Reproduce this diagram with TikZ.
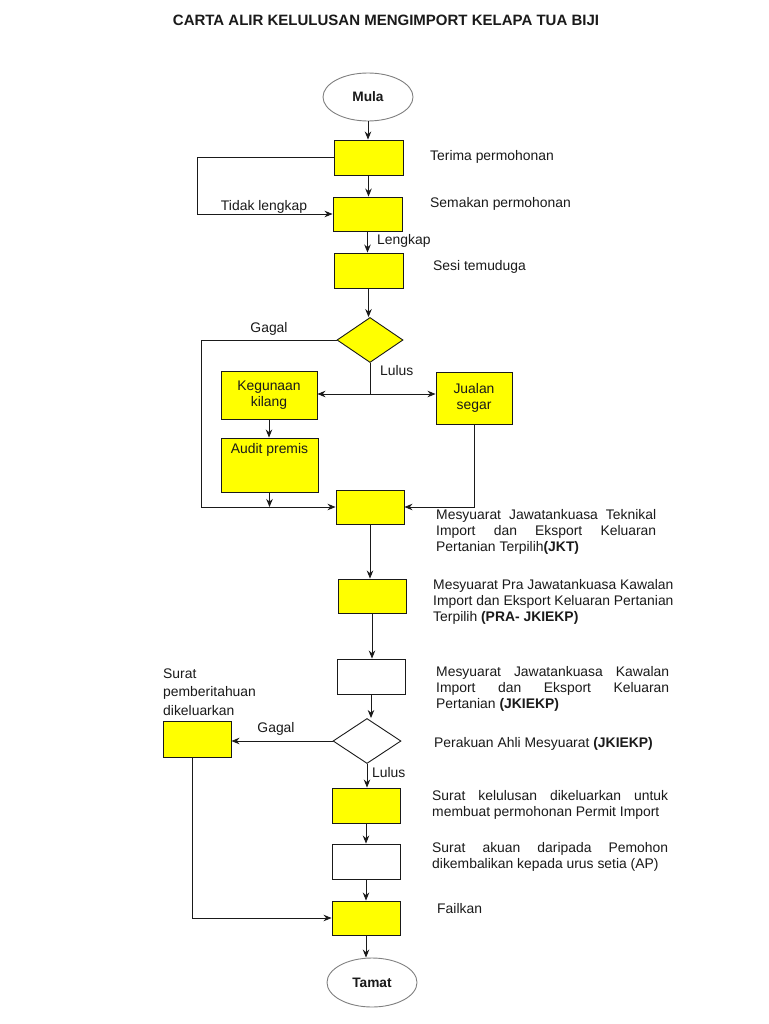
\documentclass[tikz,border=0pt]{standalone}
\usepackage{fontspec}
\setmainfont{Liberation Sans}
\usetikzlibrary{shapes.geometric,arrows.meta}
\definecolor{ink}{HTML}{1A1A1A}
\definecolor{fillY}{HTML}{FFFF00}
\newcommand\jl[2]{\makebox[#1][s]{#2}}
\tikzset{
  every node/.style={font=\fontsize{13.9}{16.2}\selectfont, text=ink},
  ybox/.style={draw=ink, line width=0.9pt, fill=fillY, inner sep=0pt},
  wbox/.style={draw=ink, line width=0.9pt, fill=white, inner sep=0pt},
  term/.style={ellipse, draw=black!50, line width=0.9pt, fill=white, inner sep=0pt, font=\fontsize{13.7}{16}\selectfont\bfseries},
  dec/.style={diamond, draw=ink, line width=0.9pt, inner sep=0pt},
  conn/.style={draw=ink, line width=0.9pt},
  arr/.style={conn, -{Stealth[length=8pt,width=6.5pt]}},
  lbl/.style={inner sep=0pt},
  desc/.style={inner sep=0pt, anchor=west, align=left}
}
\begin{document}
\begin{tikzpicture}[x=1pt,y=-1pt]
\useasboundingbox (0,0) rectangle (768,1024);
\fill[white] (0,0) rectangle (768,1024);

\node[lbl, font=\fontsize{15}{18}\selectfont\bfseries] (title) at (386,20) {CARTA ALIR KELULUSAN MENGIMPORT KELAPA TUA BIJI};

% shapes
\node[term, minimum width=90pt, minimum height=48pt] (mula) at (368,97) {Mula};
\node[ybox, minimum width=69pt, minimum height=35pt] (b1) at (368.5,157.5) {};
\node[ybox, minimum width=69pt, minimum height=34pt] (b2) at (367.5,214) {};
\node[ybox, minimum width=69pt, minimum height=35pt] (b3) at (368.5,270.5) {};
\node[dec, fill=fillY, minimum width=66pt, minimum height=45pt] (d1) at (370,340) {};
\node[ybox, minimum width=96pt, minimum height=48pt, align=center] (keg) at (269,395) {Kegunaan\\kilang};
\node[ybox, minimum width=97pt, minimum height=54pt, label={[anchor=north, lbl, yshift=-5.5pt]north:Audit premis}] (aud) at (269.5,465) {};
\node[ybox, minimum width=76pt, minimum height=52pt, align=center] (jual) at (474,398) {Jualan\\segar};
\node[ybox, minimum width=68pt, minimum height=34pt] (jkt) at (370,507) {};
\node[ybox, minimum width=68pt, minimum height=34pt] (pra) at (372,596) {};
\node[wbox, minimum width=68pt, minimum height=35pt] (jki) at (371,676.5) {};
\node[dec, fill=white, minimum width=68pt, minimum height=45pt] (d2) at (367,741) {};
\node[ybox, minimum width=68pt, minimum height=36pt] (sur) at (197,739) {};
\node[ybox, minimum width=68pt, minimum height=35pt] (kel) at (366,805.5) {};
\node[wbox, minimum width=68pt, minimum height=35pt] (ap) at (366,861.5) {};
\node[ybox, minimum width=68pt, minimum height=34pt] (fail) at (366,918) {};
\node[term, minimum width=90pt, minimum height=49pt] (tamat) at (372,982.5) {Tamat};

% helper coordinates
\coordinate (loopx) at (197,0);
\coordinate (gagx) at (201,0);
\coordinate (split) at (370,394);
\coordinate (surx) at (192,0);

% connectors
\draw[arr] (mula.south) -- (mula.south |- b1.north);
\draw[arr] (b1.south) -- (b1.south |- b2.north);
\draw[arr] (b1.west) -- (b1.west -| loopx) |- (b2.west);
\draw[arr] (b2.south) -- (b2.south |- b3.north);
\draw[arr] (b3.south) -- (b3.south |- d1.north);
\draw[arr] (d1.west) -- (d1.west -| gagx) |- (jkt.west);
\draw[conn] (d1.south) -- (split);
\draw[arr] (split) -- (keg.east |- split);
\draw[arr] (split) -- (jual.west |- split);
\draw[arr] (keg.south) -- (keg.south |- aud.north);
\draw[arr] (aud.south) -- (aud.south |- jkt.west);
\draw[arr] (jual.south) -- (jual.south |- jkt.east) -- (jkt.east);
\draw[arr] (jkt.south) -- (jkt.south |- pra.north);
\draw[arr] (pra.south) -- (pra.south |- jki.north);
\draw[arr] (jki.south) -- (jki.south |- d2.north);
\draw[arr] (d2.west) -- (sur.east |- d2.west);
\draw[arr] (d2.south) -- (d2.south |- kel.north);
\draw[arr] (kel.south) -- (kel.south |- ap.north);
\draw[arr] (ap.south) -- (ap.south |- fail.north);
\draw[arr] (sur.south -| surx) |- (fail.west);
\draw[arr] (fail.south) -- (fail.south |- tamat.north);

% connector labels
\node[lbl] (tl) at (264,207) {Tidak lengkap};
\node[lbl, anchor=west] (lk) at (377,241) {Lengkap};
\node[lbl] (g1) at (269,329) {Gagal};
\node[lbl, anchor=west] (l1) at (380,371) {Lulus};
\node[lbl] (g2) at (276,729) {Gagal};
\node[lbl, anchor=west] (l2) at (372,773) {Lulus};
\node[lbl, anchor=west, align=left, font=\fontsize{13.9}{18.5}\selectfont] (spd) at (163,692) {Surat\\pemberitahuan\\dikeluarkan};

% descriptions
\node[desc] (t1) at (430,156.5) {Terima permohonan};
\node[desc] (t2) at (430,203.5) {Semakan permohonan};
\node[desc] (t3) at (433,266.5) {Sesi temuduga};
\node[desc] (t4) at (436,532) {\jl{220pt}{Mesyuarat Jawatankuasa Teknikal}\\\jl{220pt}{Import dan Eksport Keluaran}\\Pertanian Terpilih\textbf{(JKT)}};
\node[desc] (t5) at (433,602) {Mesyuarat Pra Jawatankuasa Kawalan\\Import dan Eksport Keluaran Pertanian\\Terpilih \textbf{(PRA- JKIEKP)}};
\node[desc] (t6) at (436,689) {\jl{233pt}{Mesyuarat Jawatankuasa Kawalan}\\\jl{233pt}{Import dan Eksport Keluaran}\\Pertanian \textbf{(JKIEKP)}};
\node[desc] (t7) at (434,743.5) {Perakuan Ahli Mesyuarat \textbf{(JKIEKP)}};
\node[desc] (t8) at (432,805) {\jl{236pt}{Surat kelulusan dikeluarkan untuk}\\membuat permohonan Permit Import};
\node[desc] (t9) at (432,857) {\jl{236pt}{Surat akuan daripada Pemohon}\\dikembalikan kepada urus setia (AP)};
\node[desc] (t10) at (437,908.5) {Failkan};
\end{tikzpicture}
\end{document}
